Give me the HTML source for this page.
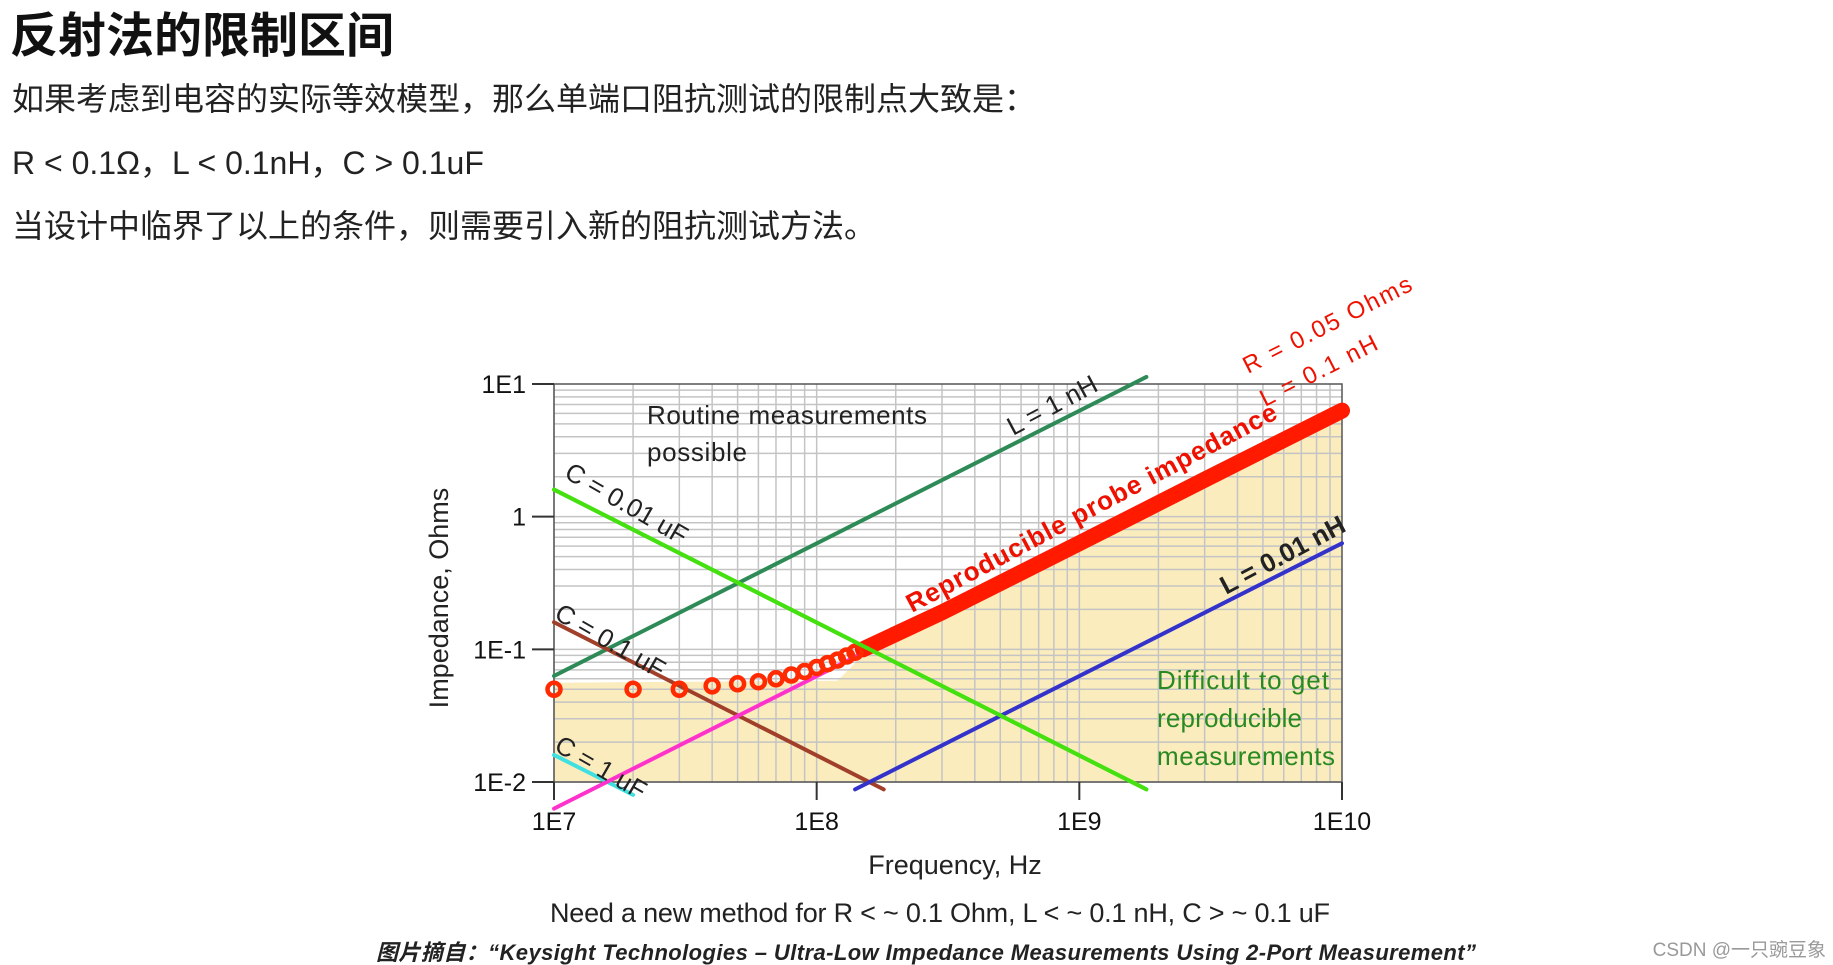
<!DOCTYPE html>
<html><head><meta charset="utf-8">
<style>
html,body{margin:0;padding:0;background:#fff;width:1833px;height:965px;overflow:hidden;}
svg{display:block;}
</style></head>
<body>
<svg id="chart" width="1833" height="965" xmlns="http://www.w3.org/2000/svg">
<text x="10" y="52" font-family="'Liberation Sans','Noto Sans CJK SC',sans-serif" font-size="48" font-weight="bold" fill="#111">反射法的限制区间</text>
<text x="12" y="110" font-family="'Liberation Sans','Noto Sans CJK SC',sans-serif" font-size="32" fill="#222">如果考虑到电容的实际等效模型，那么单端口阻抗测试的限制点大致是：</text>
<text x="12" y="174" font-family="'Liberation Sans','Noto Sans CJK SC',sans-serif" font-size="32" fill="#222">R &lt; 0.1Ω，L &lt; 0.1nH，C &gt; 0.1uF</text>
<text x="12" y="237" font-family="'Liberation Sans','Noto Sans CJK SC',sans-serif" font-size="32" fill="#222">当设计中临界了以上的条件，则需要引入新的阻抗测试方法。</text>
<g id="plot"></g>
</svg>
<script>
const xTicks=[1e7,1e8,1e9,1e10];
const xTickLabels=["1E7","1E8","1E9","1E10"];
const yTicks=[10,1,0.1,0.01];
const yTickLabels=["1E1","1","1E-1","1E-2"];
const l1nhF=[1e7,1.8e9];const l1nhZ=[0.063,11.3];
const c001F=[1e7,1.8e9];const c001Z=[1.6,0.0088];
const c01F=[1e7,1.8e8];const c01Z=[0.16,0.0088];
const c1F=[1e7,2e7];const c1Z=[0.016,0.008];
const l01F=[1e7,1.5e8];const l01Z=[0.0063,0.094];
const l001F=[1.4e8,1e10];const l001Z=[0.0088,0.63];
const redLineF=[1.5e8,3e8,1e9,3e9,1e10];const redLineZ=[0.1,0.19,0.63,1.9,6.3];
const dotF=[1e7,2e7,3e7,4e7,5e7,6e7,7e7,8e7,9e7,1e8,1.1e8,1.2e8,1.3e8,1.4e8];
const dotZ=[0.05,0.05,0.05,0.053,0.055,0.057,0.06,0.064,0.068,0.073,0.078,0.083,0.089,0.095];
const yellowF=[1e7,1.2e8,1.5e8,1e10,1e10,1e7];
const yellowZ=[0.056,0.058,0.09,6,0.01,0.01];

const NS="http://www.w3.org/2000/svg";
const g=document.getElementById('plot');
const X0=554,X1=1342,YT=384,YB=782;
function X(f){return X0+(Math.log10(f)-7)/3*(X1-X0);}
function Y(z){return YT+(1-Math.log10(z))/3*(YB-YT);}
function mk(t,a){const e=document.createElementNS(NS,t);for(const k in a)e.setAttribute(k,a[k]);g.appendChild(e);return e;}
function pts(F,Z){return F.map((f,i)=>X(f)+','+Y(Z[i])).join(' ');}

let e=mk('rect',{x:X0,y:YT,width:X1-X0,height:YB-YT,fill:'#fff'});


e=mk('polygon',{points:pts(yellowF,yellowZ),fill:'#fbecbd'});


for(let d=7;d<10;d++)for(let k=1;k<10;k++){const f=k*Math.pow(10,d);
 e=mk('line',{x1:X(f),x2:X(f),y1:YT,y2:YB,stroke:'#c4c4c4','stroke-width':1.5});
 
 }
for(let d=-2;d<1;d++)for(let k=1;k<10;k++){const z=k*Math.pow(10,d);
 e=mk('line',{x1:X0,x2:X1,y1:Y(z),y2:Y(z),stroke:'#c4c4c4','stroke-width':1.5});
 
 }
e=mk('rect',{x:X0,y:YT,width:X1-X0,height:YB-YT,fill:'none',stroke:'#555','stroke-width':1.5});


yTicks.forEach((z,i)=>{
 e=mk('line',{x1:X0-22,x2:X0,y1:Y(z),y2:Y(z),stroke:'#333','stroke-width':2});
 
 
 e=mk('text',{x:X0-28,y:Y(z)+9,'text-anchor':'end','font-family':'Liberation Sans,sans-serif','font-size':25,fill:'#111'});
 e.textContent=yTickLabels[i];
 
 
});
xTicks.forEach((f,i)=>{
 e=mk('line',{x1:X(f),x2:X(f),y1:YB,y2:YB+18,stroke:'#333','stroke-width':2});
 
 
 e=mk('text',{x:X(f),y:YB+48,'text-anchor':'middle','font-family':'Liberation Sans,sans-serif','font-size':25,fill:'#111'});
 e.textContent=xTickLabels[i];
 
 
});
function line(F,Z,c,w,name){e=mk('polyline',{points:pts(F,Z),fill:'none',stroke:c,'stroke-width':w,'stroke-linecap':'round'});
 
 }
line(l1nhF,l1nhZ,'#2e8b57',4,'line-l-1nh');
line(c001F,c001Z,'#44e010',4,'line-c-0.01uf');
line(c01F,c01Z,'#a0402a',4,'line-c-0.1uf');
line(c1F,c1Z,'#40e0e0',4,'line-c-1uf');
line(l01F,l01Z,'#ff33cc',4,'line-l-0.1nh');
line(l001F,l001Z,'#3333cc',4,'line-l-0.01nh');
line(redLineF,redLineZ,'#ff1a00',16,'probe-impedance-line');
dotF.forEach((f,i)=>{e=mk('circle',{cx:X(f),cy:Y(dotZ[i]),r:6.5,fill:'none',stroke:'#ff2a00','stroke-width':4.5});
 
 });
line(c001F,c001Z,'#44e010',4,'line-c-0.01uf-top');

function txt(x,y,s,size,c,name,rot,extra){e=mk('text',Object.assign({x:x,y:y,'font-family':'Liberation Sans,sans-serif','font-size':size,fill:c},extra||{}));
 if(rot)e.setAttribute('transform','rotate('+rot+' '+x+' '+y+')');
 e.textContent=s;
 
 }
txt(647,424,'Routine measurements',26,'#222','routine-label',0,{textLength:280});
txt(647,461,'possible',26,'#222','routine-label-2',0,{textLength:100});
txt(1157,689,'Difficult to get',26,'#2a8a22','difficult-label',0,{textLength:172});
txt(1157,727,'reproducible',26,'#2a8a22','difficult-label-2',0,{textLength:145});
txt(1157,765,'measurements',26,'#2a8a22','difficult-label-3',0,{textLength:178});
txt(1013,436,'L = 1 nH',26,'#222','label-l-1nh',-28);
txt(563,477,'C = 0.01 uF',26,'#222','label-c-0.01uf',30);
txt(553,618,'C = 0.1 uF',26,'#222','label-c-0.1uf',30);
txt(553,750,'C = 1 uF',26,'#222','label-c-1uf',30);
txt(1226,595,'L = 0.01 nH',26,'#222','label-l-0.01nh',-28,{'font-weight':'bold'});
txt(912,613,'Reproducible probe impedance',26,'#ee1100','label-probe-impedance',-28,{'font-weight':'bold','letter-spacing':1});
txt(1248,374,'R = 0.05 Ohms',24,'#ee1100','label-r-0.05',-27,{'letter-spacing':2});
txt(1265,407,'L = 0.1 nH',24,'#ee1100','label-l-0.1nh',-27,{'letter-spacing':2});
txt(448,598,'Impedance, Ohms',27,'#222','y-axis-title',-90,{'text-anchor':'middle'});
txt(955,874,'Frequency, Hz',27,'#222','x-axis-title',0,{'text-anchor':'middle'});
txt(940,922,'Need a new method for R < ~ 0.1 Ohm, L < ~ 0.1 nH, C > ~ 0.1 uF',27,'#222','chart-note',0,{'text-anchor':'middle',textLength:780});
e=mk('text',{x:926,y:960,'text-anchor':'middle','font-family':"'Liberation Sans','Noto Sans CJK SC',sans-serif",'font-size':22,'font-weight':'bold','font-style':'italic',fill:'#222',textLength:1100});
e.textContent='图片摘自：“Keysight Technologies – Ultra-Low Impedance Measurements Using 2-Port Measurement”';


e=mk('text',{x:1826,y:956,'text-anchor':'end','font-family':"'Liberation Sans','Noto Sans CJK SC',sans-serif",'font-size':19,fill:'#999'});
e.textContent='CSDN @一只豌豆象';


</script>
</body></html>
